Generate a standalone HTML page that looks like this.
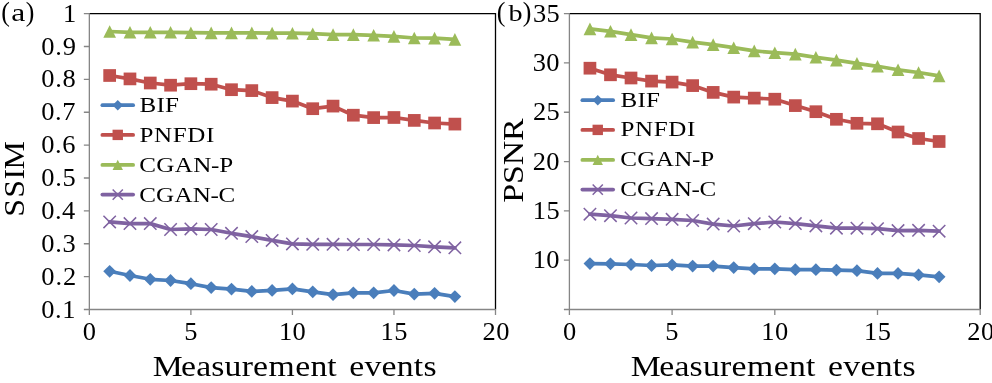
<!DOCTYPE html>
<html><head><meta charset="utf-8"><title>SSIM and PSNR vs measurement events</title>
<style>
html,body{margin:0;padding:0;background:#fff;}
body{width:992px;height:383px;overflow:hidden;}
svg{display:block;}
svg text{font-family:"Liberation Serif", "DejaVu Serif", serif;fill:#000;}
</style></head>
<body>
<svg width="992" height="383" viewBox="0 0 992 383">
<rect width="992" height="383" fill="#fff"/>
<path d="M89.35 13.65H495.5V309.5" stroke="#000" stroke-width="1.3" fill="none"/>
<path d="M89.35 13.65V315M83.85 309.5H495.5M83.85 13.65H89.35M83.85 46.52H89.35M83.85 79.39H89.35M83.85 112.27H89.35M83.85 145.14H89.35M83.85 178.01H89.35M83.85 210.88H89.35M83.85 243.76H89.35M83.85 276.63H89.35M83.85 309.5H89.35M190.89 309.5V315M292.42 309.5V315M393.96 309.5V315M495.5 309.5V315" stroke="#868686" stroke-width="1.3" fill="none"/>
<path d="M109.66 31.5 L129.97 32.3 L150.27 32.3 L170.58 32.3 L190.89 32.7 L211.19 32.9 L231.5 32.9 L251.81 32.9 L272.12 33.1 L292.43 33.2 L312.73 33.7 L333.04 34.6 L353.35 34.6 L373.65 35.3 L393.96 36.4 L414.27 38 L434.58 38.1 L454.88 39.4" stroke="#9bbb59" stroke-width="3.7" fill="none" stroke-linejoin="round" stroke-linecap="round"/>
<path d="M109.66 25.2L116.01 37.8L103.31 37.8Z" fill="#9bbb59"/>
<path d="M129.97 26L136.31 38.6L123.62 38.6Z" fill="#9bbb59"/>
<path d="M150.27 26L156.62 38.6L143.92 38.6Z" fill="#9bbb59"/>
<path d="M170.58 26L176.93 38.6L164.23 38.6Z" fill="#9bbb59"/>
<path d="M190.89 26.4L197.24 39L184.54 39Z" fill="#9bbb59"/>
<path d="M211.19 26.6L217.54 39.2L204.84 39.2Z" fill="#9bbb59"/>
<path d="M231.5 26.6L237.85 39.2L225.15 39.2Z" fill="#9bbb59"/>
<path d="M251.81 26.6L258.16 39.2L245.46 39.2Z" fill="#9bbb59"/>
<path d="M272.12 26.8L278.47 39.4L265.77 39.4Z" fill="#9bbb59"/>
<path d="M292.43 26.9L298.78 39.5L286.07 39.5Z" fill="#9bbb59"/>
<path d="M312.73 27.4L319.08 40L306.38 40Z" fill="#9bbb59"/>
<path d="M333.04 28.3L339.39 40.9L326.69 40.9Z" fill="#9bbb59"/>
<path d="M353.35 28.3L359.7 40.9L347 40.9Z" fill="#9bbb59"/>
<path d="M373.65 29L380 41.6L367.3 41.6Z" fill="#9bbb59"/>
<path d="M393.96 30.1L400.31 42.7L387.61 42.7Z" fill="#9bbb59"/>
<path d="M414.27 31.7L420.62 44.3L407.92 44.3Z" fill="#9bbb59"/>
<path d="M434.58 31.8L440.93 44.4L428.23 44.4Z" fill="#9bbb59"/>
<path d="M454.88 33.1L461.24 45.7L448.53 45.7Z" fill="#9bbb59"/>
<path d="M109.66 75.5 L129.97 78.9 L150.27 83 L170.58 85.2 L190.89 83.7 L211.19 84.2 L231.5 89.7 L251.81 90.6 L272.12 97.6 L292.43 101.1 L312.73 108.7 L333.04 106.1 L353.35 115.2 L373.65 117.6 L393.96 117.5 L414.27 120.4 L434.58 123 L454.88 124.1" stroke="#c0504d" stroke-width="3.7" fill="none" stroke-linejoin="round" stroke-linecap="round"/>
<rect x="103.31" y="69.15" width="12.7" height="12.7" fill="#c0504d"/>
<rect x="123.62" y="72.55" width="12.7" height="12.7" fill="#c0504d"/>
<rect x="143.92" y="76.65" width="12.7" height="12.7" fill="#c0504d"/>
<rect x="164.23" y="78.85" width="12.7" height="12.7" fill="#c0504d"/>
<rect x="184.54" y="77.35" width="12.7" height="12.7" fill="#c0504d"/>
<rect x="204.84" y="77.85" width="12.7" height="12.7" fill="#c0504d"/>
<rect x="225.15" y="83.35" width="12.7" height="12.7" fill="#c0504d"/>
<rect x="245.46" y="84.25" width="12.7" height="12.7" fill="#c0504d"/>
<rect x="265.77" y="91.25" width="12.7" height="12.7" fill="#c0504d"/>
<rect x="286.07" y="94.75" width="12.7" height="12.7" fill="#c0504d"/>
<rect x="306.38" y="102.35" width="12.7" height="12.7" fill="#c0504d"/>
<rect x="326.69" y="99.75" width="12.7" height="12.7" fill="#c0504d"/>
<rect x="347" y="108.85" width="12.7" height="12.7" fill="#c0504d"/>
<rect x="367.3" y="111.25" width="12.7" height="12.7" fill="#c0504d"/>
<rect x="387.61" y="111.15" width="12.7" height="12.7" fill="#c0504d"/>
<rect x="407.92" y="114.05" width="12.7" height="12.7" fill="#c0504d"/>
<rect x="428.23" y="116.65" width="12.7" height="12.7" fill="#c0504d"/>
<rect x="448.53" y="117.75" width="12.7" height="12.7" fill="#c0504d"/>
<path d="M109.66 221.9 L129.97 223.6 L150.27 223.6 L170.58 229.5 L190.89 228.9 L211.19 229.5 L231.5 233.3 L251.81 236.6 L272.12 240.4 L292.43 243.9 L312.73 244.3 L333.04 244.3 L353.35 244.5 L373.65 244.5 L393.96 244.9 L414.27 245.5 L434.58 246.8 L454.88 247.8" stroke="#7f62a1" stroke-width="3.7" fill="none" stroke-linejoin="round" stroke-linecap="round"/>
<path d="M103.46 215.7L115.86 228.1M115.86 215.7L103.46 228.1" stroke="#7f62a1" stroke-width="1.5" fill="none"/>
<path d="M123.77 217.4L136.16 229.8M136.16 217.4L123.77 229.8" stroke="#7f62a1" stroke-width="1.5" fill="none"/>
<path d="M144.07 217.4L156.47 229.8M156.47 217.4L144.07 229.8" stroke="#7f62a1" stroke-width="1.5" fill="none"/>
<path d="M164.38 223.3L176.78 235.7M176.78 223.3L164.38 235.7" stroke="#7f62a1" stroke-width="1.5" fill="none"/>
<path d="M184.69 222.7L197.09 235.1M197.09 222.7L184.69 235.1" stroke="#7f62a1" stroke-width="1.5" fill="none"/>
<path d="M205 223.3L217.39 235.7M217.39 223.3L205 235.7" stroke="#7f62a1" stroke-width="1.5" fill="none"/>
<path d="M225.3 227.1L237.7 239.5M237.7 227.1L225.3 239.5" stroke="#7f62a1" stroke-width="1.5" fill="none"/>
<path d="M245.61 230.4L258.01 242.8M258.01 230.4L245.61 242.8" stroke="#7f62a1" stroke-width="1.5" fill="none"/>
<path d="M265.92 234.2L278.32 246.6M278.32 234.2L265.92 246.6" stroke="#7f62a1" stroke-width="1.5" fill="none"/>
<path d="M286.23 237.7L298.62 250.1M298.62 237.7L286.23 250.1" stroke="#7f62a1" stroke-width="1.5" fill="none"/>
<path d="M306.53 238.1L318.93 250.5M318.93 238.1L306.53 250.5" stroke="#7f62a1" stroke-width="1.5" fill="none"/>
<path d="M326.84 238.1L339.24 250.5M339.24 238.1L326.84 250.5" stroke="#7f62a1" stroke-width="1.5" fill="none"/>
<path d="M347.15 238.3L359.55 250.7M359.55 238.3L347.15 250.7" stroke="#7f62a1" stroke-width="1.5" fill="none"/>
<path d="M367.45 238.3L379.85 250.7M379.85 238.3L367.45 250.7" stroke="#7f62a1" stroke-width="1.5" fill="none"/>
<path d="M387.76 238.7L400.16 251.1M400.16 238.7L387.76 251.1" stroke="#7f62a1" stroke-width="1.5" fill="none"/>
<path d="M408.07 239.3L420.47 251.7M420.47 239.3L408.07 251.7" stroke="#7f62a1" stroke-width="1.5" fill="none"/>
<path d="M428.38 240.6L440.78 253M440.78 240.6L428.38 253" stroke="#7f62a1" stroke-width="1.5" fill="none"/>
<path d="M448.69 241.6L461.08 254M461.08 241.6L448.69 254" stroke="#7f62a1" stroke-width="1.5" fill="none"/>
<path d="M109.66 271.3 L129.97 275.5 L150.27 279.3 L170.58 280.5 L190.89 283.7 L211.19 287.6 L231.5 289.1 L251.81 291.4 L272.12 290.4 L292.43 288.9 L312.73 291.8 L333.04 294.7 L353.35 292.8 L373.65 292.8 L393.96 290.5 L414.27 294.1 L434.58 293.3 L454.88 296.6" stroke="#4a7ebb" stroke-width="3.7" fill="none" stroke-linejoin="round" stroke-linecap="round"/>
<path d="M109.66 264.9L116.06 271.3L109.66 277.7L103.26 271.3Z" fill="#4a7ebb"/>
<path d="M129.97 269.1L136.37 275.5L129.97 281.9L123.56 275.5Z" fill="#4a7ebb"/>
<path d="M150.27 272.9L156.67 279.3L150.27 285.7L143.87 279.3Z" fill="#4a7ebb"/>
<path d="M170.58 274.1L176.98 280.5L170.58 286.9L164.18 280.5Z" fill="#4a7ebb"/>
<path d="M190.89 277.3L197.29 283.7L190.89 290.1L184.49 283.7Z" fill="#4a7ebb"/>
<path d="M211.19 281.2L217.59 287.6L211.19 294L204.79 287.6Z" fill="#4a7ebb"/>
<path d="M231.5 282.7L237.9 289.1L231.5 295.5L225.1 289.1Z" fill="#4a7ebb"/>
<path d="M251.81 285L258.21 291.4L251.81 297.8L245.41 291.4Z" fill="#4a7ebb"/>
<path d="M272.12 284L278.52 290.4L272.12 296.8L265.72 290.4Z" fill="#4a7ebb"/>
<path d="M292.43 282.5L298.82 288.9L292.43 295.3L286.03 288.9Z" fill="#4a7ebb"/>
<path d="M312.73 285.4L319.13 291.8L312.73 298.2L306.33 291.8Z" fill="#4a7ebb"/>
<path d="M333.04 288.3L339.44 294.7L333.04 301.1L326.64 294.7Z" fill="#4a7ebb"/>
<path d="M353.35 286.4L359.75 292.8L353.35 299.2L346.95 292.8Z" fill="#4a7ebb"/>
<path d="M373.65 286.4L380.05 292.8L373.65 299.2L367.25 292.8Z" fill="#4a7ebb"/>
<path d="M393.96 284.1L400.36 290.5L393.96 296.9L387.56 290.5Z" fill="#4a7ebb"/>
<path d="M414.27 287.7L420.67 294.1L414.27 300.5L407.87 294.1Z" fill="#4a7ebb"/>
<path d="M434.58 286.9L440.98 293.3L434.58 299.7L428.18 293.3Z" fill="#4a7ebb"/>
<path d="M454.88 290.2L461.28 296.6L454.88 303L448.49 296.6Z" fill="#4a7ebb"/>
<text transform="translate(65.27,21.64) scale(1.0800,1)" x="-2.15" style="font-size:24.5px">1</text>
<text transform="translate(42.2,54.57) scale(1.0800,1)" x="-0.93 12.07 18.94" style="font-size:24.5px">0.9</text>
<text transform="translate(42.2,87.44) scale(1.0800,1)" x="-0.93 12.03 18.87" style="font-size:24.5px">0.8</text>
<text transform="translate(42.2,120.31) scale(1.0800,1)" x="-0.93 11.92 18.64" style="font-size:24.5px">0.7</text>
<text transform="translate(42.2,153.19) scale(1.0800,1)" x="-0.93 11.93 18.66" style="font-size:24.5px">0.6</text>
<text transform="translate(42.2,186.06) scale(1.0800,1)" x="-0.93 12.04 18.89" style="font-size:24.5px">0.5</text>
<text transform="translate(42.2,218.93) scale(1.0800,1)" x="-0.93 11.75 18.32" style="font-size:24.5px">0.4</text>
<text transform="translate(42.2,251.8) scale(1.0800,1)" x="-0.93 12.04 18.89" style="font-size:24.5px">0.3</text>
<text transform="translate(42.2,284.67) scale(1.0800,1)" x="-0.93 12.24 19.29" style="font-size:24.5px">0.2</text>
<text transform="translate(42.2,317.55) scale(1.0800,1)" x="-0.93 11.88 18.57" style="font-size:24.5px">0.1</text>
<text transform="translate(83.86,340.3) scale(1.0800,1)" x="-0.93" style="font-size:24.5px">0</text>
<text transform="translate(185.65,340.3) scale(1.0800,1)" x="-1.42" style="font-size:24.5px">5</text>
<text transform="translate(281.22,340.3) scale(1.0800,1)" x="-2.15 10.55" style="font-size:24.5px">10</text>
<text transform="translate(382.77,340.3) scale(1.0800,1)" x="-2.15 10.55" style="font-size:24.5px">15</text>
<text transform="translate(483.75,340.3) scale(1.0800,1)" x="-1.08 11.54" style="font-size:24.5px">20</text>
<text transform="translate(155,376) scale(1.1427,1)" x="-2.06 22.74 36.04 49.26 60.93 75.84 85.76 99.29 122.67 136 150.85 160.74 169.94 183.26 198.25 211.57 226.43 234.88" style="font-size:29.5px">Measurement events</text>
<text transform="translate(24,214.6) rotate(-90) scale(1.0816,1)" x="-1.97 15.53 32.43 41.6" style="font-size:29.5px">SSIM</text>
<text transform="translate(1.16,20.92) scale(0.95,1)" style="font-size:27.3px">(</text><text transform="translate(11.19,20.6) scale(1.27,1)" style="font-size:24.8px">a</text><text transform="translate(25.66,20.92) scale(0.95,1)" style="font-size:27.3px">)</text>
<path d="M102.35 105.2H133.15" stroke="#4a7ebb" stroke-width="3.7" stroke-linecap="round"/>
<path d="M117.75 99.95L123 105.2L117.75 110.45L112.5 105.2Z" fill="#4a7ebb"/>
<text transform="translate(140.2,112.4) scale(1.1500,1)" x="-0.63 14.14 21.62" style="font-size:21.8px">BIF</text>
<path d="M102.35 134.9H133.15" stroke="#c0504d" stroke-width="3.7" stroke-linecap="round"/>
<rect x="112.54" y="129.69" width="10.41" height="10.41" fill="#c0504d"/>
<text transform="translate(140.2,141.9) scale(1.1500,1)" x="-0.63 12.01 28.27 40.9 57.16" style="font-size:21.8px">PNFDI</text>
<path d="M102.35 164.9H133.15" stroke="#9bbb59" stroke-width="3.7" stroke-linecap="round"/>
<path d="M117.75 159.73L122.96 170.07L112.54 170.07Z" fill="#9bbb59"/>
<text transform="translate(140.2,171.9) scale(1.1500,1)" x="-0.89 13.96 30.01 46.07 61.65 68.75" style="font-size:21.8px">CGAN-P</text>
<path d="M102.35 194.6H133.15" stroke="#7f62a1" stroke-width="3.7" stroke-linecap="round"/>
<path d="M112.67 189.52L122.83 199.68M122.83 189.52L112.67 199.68" stroke="#7f62a1" stroke-width="1.5" fill="none"/>
<text transform="translate(140.2,201.6) scale(1.1500,1)" x="-0.89 13.84 29.77 45.7 61.16 68.14" style="font-size:21.8px">CGAN-C</text>
<path d="M569.4 13.65H980.2V309.5" stroke="#000" stroke-width="1.3" fill="none"/>
<path d="M569.4 13.65V315M563.9 309.5H980.2M563.9 13.65H569.4M563.9 62.96H569.4M563.9 112.27H569.4M563.9 161.58H569.4M563.9 210.88H569.4M563.9 260.19H569.4M563.9 309.5H569.4M672.1 309.5V315M774.8 309.5V315M877.5 309.5V315M980.2 309.5V315" stroke="#868686" stroke-width="1.3" fill="none"/>
<path d="M589.94 28.9 L610.48 31.3 L631.02 34.6 L651.56 37.9 L672.1 39 L692.64 42.1 L713.18 44.6 L733.72 47.7 L754.26 50.9 L774.8 52.7 L795.34 54.1 L815.88 57.3 L836.42 60.1 L856.96 63.4 L877.5 66.3 L898.04 69.8 L918.58 72.5 L939.12 75.9" stroke="#9bbb59" stroke-width="3.7" fill="none" stroke-linejoin="round" stroke-linecap="round"/>
<path d="M589.94 22.6L596.29 35.2L583.59 35.2Z" fill="#9bbb59"/>
<path d="M610.48 25L616.83 37.6L604.13 37.6Z" fill="#9bbb59"/>
<path d="M631.02 28.3L637.37 40.9L624.67 40.9Z" fill="#9bbb59"/>
<path d="M651.56 31.6L657.91 44.2L645.21 44.2Z" fill="#9bbb59"/>
<path d="M672.1 32.7L678.45 45.3L665.75 45.3Z" fill="#9bbb59"/>
<path d="M692.64 35.8L698.99 48.4L686.29 48.4Z" fill="#9bbb59"/>
<path d="M713.18 38.3L719.53 50.9L706.83 50.9Z" fill="#9bbb59"/>
<path d="M733.72 41.4L740.07 54L727.37 54Z" fill="#9bbb59"/>
<path d="M754.26 44.6L760.61 57.2L747.91 57.2Z" fill="#9bbb59"/>
<path d="M774.8 46.4L781.15 59L768.45 59Z" fill="#9bbb59"/>
<path d="M795.34 47.8L801.69 60.4L788.99 60.4Z" fill="#9bbb59"/>
<path d="M815.88 51L822.23 63.6L809.53 63.6Z" fill="#9bbb59"/>
<path d="M836.42 53.8L842.77 66.4L830.07 66.4Z" fill="#9bbb59"/>
<path d="M856.96 57.1L863.31 69.7L850.61 69.7Z" fill="#9bbb59"/>
<path d="M877.5 60L883.85 72.6L871.15 72.6Z" fill="#9bbb59"/>
<path d="M898.04 63.5L904.39 76.1L891.69 76.1Z" fill="#9bbb59"/>
<path d="M918.58 66.2L924.93 78.8L912.23 78.8Z" fill="#9bbb59"/>
<path d="M939.12 69.6L945.47 82.2L932.77 82.2Z" fill="#9bbb59"/>
<path d="M589.94 68.2 L610.48 74.8 L631.02 78 L651.56 81.1 L672.1 82.1 L692.64 85.6 L713.18 92.4 L733.72 97.1 L754.26 98.1 L774.8 99.2 L795.34 105.6 L815.88 111.7 L836.42 119.3 L856.96 123.3 L877.5 123.8 L898.04 132 L918.58 138.5 L939.12 141.5" stroke="#c0504d" stroke-width="3.7" fill="none" stroke-linejoin="round" stroke-linecap="round"/>
<rect x="583.59" y="61.85" width="12.7" height="12.7" fill="#c0504d"/>
<rect x="604.13" y="68.45" width="12.7" height="12.7" fill="#c0504d"/>
<rect x="624.67" y="71.65" width="12.7" height="12.7" fill="#c0504d"/>
<rect x="645.21" y="74.75" width="12.7" height="12.7" fill="#c0504d"/>
<rect x="665.75" y="75.75" width="12.7" height="12.7" fill="#c0504d"/>
<rect x="686.29" y="79.25" width="12.7" height="12.7" fill="#c0504d"/>
<rect x="706.83" y="86.05" width="12.7" height="12.7" fill="#c0504d"/>
<rect x="727.37" y="90.75" width="12.7" height="12.7" fill="#c0504d"/>
<rect x="747.91" y="91.75" width="12.7" height="12.7" fill="#c0504d"/>
<rect x="768.45" y="92.85" width="12.7" height="12.7" fill="#c0504d"/>
<rect x="788.99" y="99.25" width="12.7" height="12.7" fill="#c0504d"/>
<rect x="809.53" y="105.35" width="12.7" height="12.7" fill="#c0504d"/>
<rect x="830.07" y="112.95" width="12.7" height="12.7" fill="#c0504d"/>
<rect x="850.61" y="116.95" width="12.7" height="12.7" fill="#c0504d"/>
<rect x="871.15" y="117.45" width="12.7" height="12.7" fill="#c0504d"/>
<rect x="891.69" y="125.65" width="12.7" height="12.7" fill="#c0504d"/>
<rect x="912.23" y="132.15" width="12.7" height="12.7" fill="#c0504d"/>
<rect x="932.77" y="135.15" width="12.7" height="12.7" fill="#c0504d"/>
<path d="M589.94 214.2 L610.48 215.7 L631.02 218 L651.56 218.6 L672.1 219.3 L692.64 220.5 L713.18 224.1 L733.72 226 L754.26 223.7 L774.8 222 L795.34 223.6 L815.88 225.9 L836.42 228.2 L856.96 228.2 L877.5 228.7 L898.04 230.6 L918.58 230.3 L939.12 231.2" stroke="#7f62a1" stroke-width="3.7" fill="none" stroke-linejoin="round" stroke-linecap="round"/>
<path d="M583.74 208L596.14 220.4M596.14 208L583.74 220.4" stroke="#7f62a1" stroke-width="1.5" fill="none"/>
<path d="M604.28 209.5L616.68 221.9M616.68 209.5L604.28 221.9" stroke="#7f62a1" stroke-width="1.5" fill="none"/>
<path d="M624.82 211.8L637.22 224.2M637.22 211.8L624.82 224.2" stroke="#7f62a1" stroke-width="1.5" fill="none"/>
<path d="M645.36 212.4L657.76 224.8M657.76 212.4L645.36 224.8" stroke="#7f62a1" stroke-width="1.5" fill="none"/>
<path d="M665.9 213.1L678.3 225.5M678.3 213.1L665.9 225.5" stroke="#7f62a1" stroke-width="1.5" fill="none"/>
<path d="M686.44 214.3L698.84 226.7M698.84 214.3L686.44 226.7" stroke="#7f62a1" stroke-width="1.5" fill="none"/>
<path d="M706.98 217.9L719.38 230.3M719.38 217.9L706.98 230.3" stroke="#7f62a1" stroke-width="1.5" fill="none"/>
<path d="M727.52 219.8L739.92 232.2M739.92 219.8L727.52 232.2" stroke="#7f62a1" stroke-width="1.5" fill="none"/>
<path d="M748.06 217.5L760.46 229.9M760.46 217.5L748.06 229.9" stroke="#7f62a1" stroke-width="1.5" fill="none"/>
<path d="M768.6 215.8L781 228.2M781 215.8L768.6 228.2" stroke="#7f62a1" stroke-width="1.5" fill="none"/>
<path d="M789.14 217.4L801.54 229.8M801.54 217.4L789.14 229.8" stroke="#7f62a1" stroke-width="1.5" fill="none"/>
<path d="M809.68 219.7L822.08 232.1M822.08 219.7L809.68 232.1" stroke="#7f62a1" stroke-width="1.5" fill="none"/>
<path d="M830.22 222L842.62 234.4M842.62 222L830.22 234.4" stroke="#7f62a1" stroke-width="1.5" fill="none"/>
<path d="M850.76 222L863.16 234.4M863.16 222L850.76 234.4" stroke="#7f62a1" stroke-width="1.5" fill="none"/>
<path d="M871.3 222.5L883.7 234.9M883.7 222.5L871.3 234.9" stroke="#7f62a1" stroke-width="1.5" fill="none"/>
<path d="M891.84 224.4L904.24 236.8M904.24 224.4L891.84 236.8" stroke="#7f62a1" stroke-width="1.5" fill="none"/>
<path d="M912.38 224.1L924.78 236.5M924.78 224.1L912.38 236.5" stroke="#7f62a1" stroke-width="1.5" fill="none"/>
<path d="M932.92 225L945.32 237.4M945.32 225L932.92 237.4" stroke="#7f62a1" stroke-width="1.5" fill="none"/>
<path d="M589.94 263.6 L610.48 263.8 L631.02 264.5 L651.56 265.5 L672.1 264.9 L692.64 266.1 L713.18 266.1 L733.72 267.6 L754.26 268.9 L774.8 268.8 L795.34 269.7 L815.88 269.7 L836.42 270.1 L856.96 270.7 L877.5 273.4 L898.04 273.4 L918.58 274.9 L939.12 276.8" stroke="#4a7ebb" stroke-width="3.7" fill="none" stroke-linejoin="round" stroke-linecap="round"/>
<path d="M589.94 257.2L596.34 263.6L589.94 270L583.54 263.6Z" fill="#4a7ebb"/>
<path d="M610.48 257.4L616.88 263.8L610.48 270.2L604.08 263.8Z" fill="#4a7ebb"/>
<path d="M631.02 258.1L637.42 264.5L631.02 270.9L624.62 264.5Z" fill="#4a7ebb"/>
<path d="M651.56 259.1L657.96 265.5L651.56 271.9L645.16 265.5Z" fill="#4a7ebb"/>
<path d="M672.1 258.5L678.5 264.9L672.1 271.3L665.7 264.9Z" fill="#4a7ebb"/>
<path d="M692.64 259.7L699.04 266.1L692.64 272.5L686.24 266.1Z" fill="#4a7ebb"/>
<path d="M713.18 259.7L719.58 266.1L713.18 272.5L706.78 266.1Z" fill="#4a7ebb"/>
<path d="M733.72 261.2L740.12 267.6L733.72 274L727.32 267.6Z" fill="#4a7ebb"/>
<path d="M754.26 262.5L760.66 268.9L754.26 275.3L747.86 268.9Z" fill="#4a7ebb"/>
<path d="M774.8 262.4L781.2 268.8L774.8 275.2L768.4 268.8Z" fill="#4a7ebb"/>
<path d="M795.34 263.3L801.74 269.7L795.34 276.1L788.94 269.7Z" fill="#4a7ebb"/>
<path d="M815.88 263.3L822.28 269.7L815.88 276.1L809.48 269.7Z" fill="#4a7ebb"/>
<path d="M836.42 263.7L842.82 270.1L836.42 276.5L830.02 270.1Z" fill="#4a7ebb"/>
<path d="M856.96 264.3L863.36 270.7L856.96 277.1L850.56 270.7Z" fill="#4a7ebb"/>
<path d="M877.5 267L883.9 273.4L877.5 279.8L871.1 273.4Z" fill="#4a7ebb"/>
<path d="M898.04 267L904.44 273.4L898.04 279.8L891.64 273.4Z" fill="#4a7ebb"/>
<path d="M918.58 268.5L924.98 274.9L918.58 281.3L912.18 274.9Z" fill="#4a7ebb"/>
<path d="M939.12 270.4L945.52 276.8L939.12 283.2L932.72 276.8Z" fill="#4a7ebb"/>
<text transform="translate(534.13,21.66) scale(1.0800,1)" x="-1.17 11.36" style="font-size:24.5px">35</text>
<text transform="translate(534.11,71.01) scale(1.0800,1)" x="-1.17 11.36" style="font-size:24.5px">30</text>
<text transform="translate(534.03,120.28) scale(1.0800,1)" x="-1.08 11.45" style="font-size:24.5px">25</text>
<text transform="translate(534.01,169.62) scale(1.0800,1)" x="-1.08 11.45" style="font-size:24.5px">20</text>
<text transform="translate(535.11,218.87) scale(1.0800,1)" x="-2.15 10.46" style="font-size:24.5px">15</text>
<text transform="translate(535.09,268.24) scale(1.0800,1)" x="-2.15 10.45" style="font-size:24.5px">10</text>
<text transform="translate(563.91,340.3) scale(1.0800,1)" x="-0.93" style="font-size:24.5px">0</text>
<text transform="translate(666.87,340.3) scale(1.0800,1)" x="-1.42" style="font-size:24.5px">5</text>
<text transform="translate(763.59,340.3) scale(1.0800,1)" x="-2.15 10.55" style="font-size:24.5px">10</text>
<text transform="translate(866.31,340.3) scale(1.0800,1)" x="-2.15 10.55" style="font-size:24.5px">15</text>
<text transform="translate(968.45,340.3) scale(1.0800,1)" x="-1.08 11.54" style="font-size:24.5px">20</text>
<text transform="translate(633.1,376) scale(1.1427,1)" x="-2.06 22.79 36.14 49.42 61.13 76.09 86.07 99.65 123.09 136.46 151.37 161.31 170.56 183.93 198.97 212.34 227.25 235.75" style="font-size:29.5px">Measurement events</text>
<text transform="translate(522.8,201.8) rotate(-90) scale(1.1500,1)" x="-0.85 15.46 31.77 52.98" style="font-size:29.5px">PSNR</text>
<text transform="translate(496.76,20.92) scale(0.95,1)" style="font-size:27.3px">(</text><text transform="translate(508.5,20.8) scale(1.17,1)" style="font-size:24.1px">b</text><text transform="translate(522.76,20.92) scale(0.95,1)" style="font-size:27.3px">)</text>
<path d="M582.35 100.2H613.15" stroke="#4a7ebb" stroke-width="3.7" stroke-linecap="round"/>
<path d="M597.75 94.95L603 100.2L597.75 105.45L592.5 100.2Z" fill="#4a7ebb"/>
<text transform="translate(621.2,107) scale(1.1500,1)" x="-0.63 14.14 21.62" style="font-size:21.8px">BIF</text>
<path d="M582.35 129.9H613.15" stroke="#c0504d" stroke-width="3.7" stroke-linecap="round"/>
<rect x="592.54" y="124.69" width="10.41" height="10.41" fill="#c0504d"/>
<text transform="translate(621.2,136.4) scale(1.1500,1)" x="-0.63 12.01 28.27 40.9 57.16" style="font-size:21.8px">PNFDI</text>
<path d="M582.35 159.9H613.15" stroke="#9bbb59" stroke-width="3.7" stroke-linecap="round"/>
<path d="M597.75 154.73L602.96 165.07L592.54 165.07Z" fill="#9bbb59"/>
<text transform="translate(621.2,166.4) scale(1.1500,1)" x="-0.89 13.96 30.01 46.07 61.65 68.75" style="font-size:21.8px">CGAN-P</text>
<path d="M582.35 189.6H613.15" stroke="#7f62a1" stroke-width="3.7" stroke-linecap="round"/>
<path d="M592.67 184.52L602.83 194.68M602.83 184.52L592.67 194.68" stroke="#7f62a1" stroke-width="1.5" fill="none"/>
<text transform="translate(621.2,196.1) scale(1.1500,1)" x="-0.89 13.84 29.77 45.7 61.16 68.14" style="font-size:21.8px">CGAN-C</text>
</svg>
</body></html>
